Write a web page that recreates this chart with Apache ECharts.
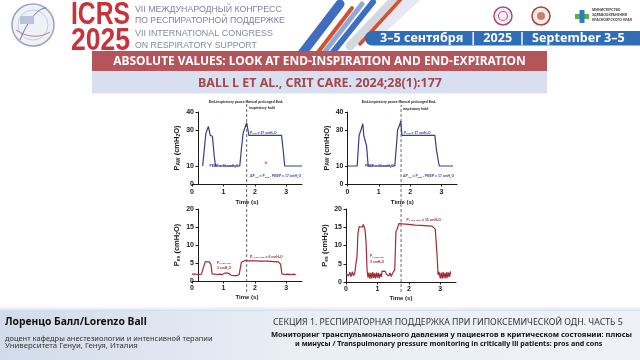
<!DOCTYPE html>
<html><head><meta charset="utf-8">
<script src="https://cdn.jsdelivr.net/npm/echarts@6/dist/echarts.min.js"></script>
<style>html,body{margin:0;padding:0;background:#fff}#c{width:640px;height:360px}</style>
</head><body><div id="c"></div>
<script>
// ---------- data ----------
const timeTicks = [0, 1, 2, 3];
const pawTicks = [0, 10, 30, 40];
const pesTicks = [0, 5, 10, 15, 20];
const eventLeft = [1.74];
const eventRight = [1.71];
// [time (s), Paw (cmH2O)]  end-inspiratory pause
const pawLeft = [[0.34,10],[0.39,10],[0.44,28],[0.52,32],[0.55,33],[0.58,27],[0.62,28],[0.65,26.5],[0.71,15],[0.75,10],[1.52,10],[1.58,21],[1.63,28.5],[1.70,32],[1.74,34],[1.81,27],[2.85,27],[2.90,19],[2.95,10],[3.50,10]];
// manual prolonged end-inspiratory hold
const pawRight = [[0,10],[0.31,10],[0.37,27],[0.43,30],[0.49,33.5],[0.52,27],[0.57,27],[0.61,21],[0.66,10],[1.51,10],[1.57,23],[1.60,30],[1.67,33],[1.70,35],[1.74,27],[2.79,27],[2.84,19],[2.93,10],[3.37,10]];
// [time (s), Pes (cmH2O)]
const pesLeft = [[0,1.9],[0.05,1.7],[0.1,1.9],[0.15,1.6],[0.2,1.8],[0.25,1.7],[0.3,1.9],[0.34,2.4],[0.38,4.2],[0.42,5.3],[0.48,5.6],[0.55,5.3],[0.6,4.6],[0.64,2.0],[0.68,1.6],[0.72,1.9],[0.76,1.5],[0.8,1.8],[0.84,1.5],[0.88,1.9],[0.92,1.6],[0.96,1.8],[1.0,2.1],[1.05,2.2],[1.1,2.1],[1.15,2.2],[1.2,2.0],[1.25,1.6],[1.3,1.9],[1.34,1.5],[1.38,1.8],[1.42,1.5],[1.46,1.9],[1.5,1.8],[1.53,3.2],[1.57,5.2],[1.62,5.6],[1.69,5.7],[1.8,5.6],[2.0,5.6],[2.2,5.5],[2.4,5.5],[2.6,5.4],[2.75,5.3],[2.82,4.6],[2.86,2.0],[2.9,1.5],[2.95,1.8],[3.0,1.5],[3.05,1.9],[3.1,1.5],[3.15,1.8],[3.2,1.6],[3.25,1.9],[3.3,1.7]];
const pesRight = [[0,2.4],[0.04,2.8],[0.08,1.6],[0.12,2.7],[0.16,1.5],[0.2,2.8],[0.24,1.7],[0.28,2.6],[0.32,2.2],[0.35,7],[0.38,13.3],[0.42,15.2],[0.48,15.6],[0.52,15],[0.55,15.8],[0.59,14.8],[0.61,14],[0.64,10.5],[0.67,3.3],[0.7,1.2],[0.73,2.6],[0.76,0.9],[0.79,2.5],[0.82,1.0],[0.85,2.7],[0.88,1.1],[0.91,2.4],[0.94,1.0],[0.97,2.6],[1.0,1.2],[1.03,2.5],[1.06,1.0],[1.09,2.3],[1.12,1.4],[1.15,3.0],[1.2,3.0],[1.25,2.9],[1.28,2.2],[1.32,2.6],[1.36,1.6],[1.4,2.5],[1.44,1.5],[1.48,2.4],[1.52,2.0],[1.55,3.3],[1.59,13.8],[1.64,14.8],[1.68,16],[1.8,15.9],[2.0,15.8],[2.2,15.6],[2.4,15.5],[2.6,15.4],[2.74,15.3],[2.79,14.8],[2.84,14.5],[2.9,7],[2.93,1.9],[2.96,2.8],[3.0,1.0],[3.03,2.6],[3.06,0.9],[3.09,2.7],[3.12,1.1],[3.15,2.5],[3.18,1.0],[3.21,2.7],[3.24,1.2],[3.27,2.6],[3.3,1.5],[3.33,2.9]];

// ---------- styling ----------
const BLUE = '#363c8e', RED = '#a02a36', AX = '#1a1a1a';
const AF = '"Liberation Sans", Arial, sans-serif';
const NF = '"Noto Sans", "Open Sans", sans-serif';
const mctx = document.createElement('canvas').getContext('2d');
function fit(text, fam, weight, width) { mctx.font = weight + ' 100px ' + fam; return 100 * width / mctx.measureText(text).width; }

const grids = [
  {left: 192, top: 112, width: 110, height: 72},
  {left: 192, top: 209, width: 110, height: 72},
  {left: 347.5, top: 112, width: 109.6, height: 72},
  {left: 346, top: 209, width: 110, height: 73},
  {left: 192, top: 103, width: 110, height: 189},
  {left: 347.5, top: 105, width: 109.6, height: 187}
].map(g => Object.assign({outerBoundsMode: 'none', containLabel: false}, g));

function xAx(i, named, margin, gap) {
  return {
    type: 'value', gridIndex: i, min: 0, max: 3.5,
    axisLine: {show: true, lineStyle: {color: AX, width: 1}},
    axisTick: {show: true, length: 2.5, customValues: timeTicks, lineStyle: {color: AX, width: 1}},
    axisLabel: {customValues: timeTicks, fontSize: 7, fontWeight: 'bold', color: AX, fontFamily: AF, margin: margin},
    splitLine: {show: false},
    name: named ? 'Time (s)' : '', nameLocation: 'middle', nameGap: gap,
    nameTextStyle: {fontSize: 6, fontWeight: 'bold', color: AX, fontFamily: AF}
  };
}
const richName = {
  b: {fontSize: 7.5, fontWeight: 'bold', color: AX, fontFamily: AF},
  s: {fontSize: 5, fontWeight: 'bold', color: AX, fontFamily: AF, verticalAlign: 'bottom', padding: [3, 0, 0, 0]}
};
function yAx(i, max, interval, ticks, name, offset) {
  return {
    type: 'value', gridIndex: i, min: 0, max: max, interval: interval, offset: offset,
    axisLine: {show: true, lineStyle: {color: AX, width: 1}},
    axisTick: {show: true, length: 2.5, customValues: ticks, lineStyle: {color: AX, width: 1}},
    axisLabel: {customValues: ticks, fontSize: 7, fontWeight: 'bold', color: AX, fontFamily: AF, margin: 4},
    splitLine: {show: false},
    name: name, nameLocation: 'middle', nameGap: 17, nameRotate: 90,
    nameTextStyle: {rich: richName}
  };
}
const hidX = i => ({type: 'value', gridIndex: i, min: 0, max: 3.5, show: false});
const hidY = i => ({type: 'value', gridIndex: i, min: 0, max: 1, show: false});

const pawName = '{b|P}{s|AW}{b| (cmH}{s|2}{b|O)}';
const pesName = '{b|P}{s|es}{b| (cmH}{s|2}{b|O)}';

function trace(i, data, color) {
  return {type: 'line', xAxisIndex: i, yAxisIndex: i, data: data, showSymbol: false, symbol: 'none',
    lineStyle: {color: color, width: 1.2}, silent: true, animation: false, z: 3};
}
function eventLine(i, ev) {
  return {type: 'line', xAxisIndex: i, yAxisIndex: i, data: [[ev[0], 0], [ev[0], 1]], showSymbol: false, symbol: 'none',
    lineStyle: {color: '#444', width: 0.8, type: [3, 2]}, silent: true, animation: false, z: 2};
}

// ---------- slide graphics ----------
function T(x, y, text, size, o) {
  return {type: 'text', x: x, y: y, silent: true,
    style: Object.assign({text: text, fontSize: size, fontFamily: NF, fill: '#222', align: 'left', verticalAlign: 'middle'}, o || {})};
}
function fitT(x, y, text, width, fam, weight, o) {
  return T(x, y, text, fit(text, fam, weight, width), Object.assign({fontFamily: fam, fontWeight: weight}, o || {}));
}
function ann(x, y, text, color, size, align) {
  return {type: 'text', x: x, y: y, silent: true, style: {text: text, fill: color, fontSize: size, fontWeight: 'bold',
    fontFamily: AF, align: align || 'left', verticalAlign: 'middle',
    rich: {s: {fontSize: size * 0.72, fill: color, fontWeight: 'bold', fontFamily: AF, verticalAlign: 'bottom'}}}};
}
function stripe(x1, y1, x2, y2, w, c) {
  return {type: 'line', silent: true, shape: {x1: x1, y1: y1, x2: x2, y2: y2}, style: {stroke: c, lineWidth: w, lineCap: 'round'}};
}
function scaledText(x, y, text, size, width, color) {
  mctx.font = 'bold ' + size + 'px ' + AF;
  const sx = width / mctx.measureText(text).width;
  return {type: 'text', x: x, y: y, scaleX: sx, silent: true,
    style: {text: text, fontSize: size, fontWeight: 'bold', fontFamily: AF, fill: color, align: 'left', verticalAlign: 'middle'}};
}

const g = [];
// header logo
g.push({type: 'circle', shape: {cx: 33, cy: 25, r: 21}, style: {fill: '#eef1f7', stroke: '#9aa5be', lineWidth: 1.5}, silent: true});
g.push({type: 'circle', shape: {cx: 33, cy: 25, r: 15}, style: {fill: 'none', stroke: '#b9c3d7', lineWidth: 0.8}, silent: true});
g.push({type: 'bezierCurve', shape: {x1: 20, y1: 40, x2: 46, y2: 8, cpx1: 28, cpy1: 20, cpx2: 38, cpy2: 8}, style: {stroke: '#5b79b4', lineWidth: 1, fill: 'none'}, silent: true});
g.push({type: 'bezierCurve', shape: {x1: 16, y1: 30, x2: 50, y2: 32, cpx1: 28, cpy1: 38, cpx2: 40, cpy2: 38}, style: {stroke: '#c25a5a', lineWidth: 0.8, fill: 'none'}, silent: true});
g.push({type: 'rect', shape: {x: 20, y: 16, width: 14, height: 8}, style: {fill: '#b8c4dc'}, silent: true});
// ICRS 2025
g.push(scaledText(71, 15.5, 'ICRS', 31, 59, '#c8323a'));
g.push(scaledText(71, 41, '2025', 31, 59, '#c8323a'));
g.push(fitT(135, 10, 'VII МЕЖДУНАРОДНЫЙ КОНГРЕСС', 147, AF, 'normal', {fill: '#837ea3'}));
g.push(fitT(135, 21, 'ПО РЕСПИРАТОРНОЙ ПОДДЕРЖКЕ', 150, AF, 'normal', {fill: '#837ea3'}));
g.push(fitT(135, 34, 'VII INTERNATIONAL CONGRESS', 138, AF, 'normal', {fill: '#858a9a'}));
g.push(fitT(135, 45.5, 'ON RESPIRATORY SUPPORT', 122, AF, 'normal', {fill: '#858a9a'}));
// diagonal stripes
g.push(stripe(370, 38, 418, -6, 12, '#e6e9ef'));
g.push(stripe(350, 46, 396, -2, 9, '#d3d7df'));
g.push(stripe(297, 60, 340, 4, 9, '#3f6dbf'));
g.push(stripe(312, 60, 352, 8, 4, '#d4512f'));
g.push(stripe(323, 54, 362, 4, 5, '#8eaad8'));
g.push(stripe(333, 52, 373, 2, 6, '#3f6dbf'));
g.push(stripe(360, 44, 402, -2, 3.5, '#d4512f'));
// logos
g.push({type: 'circle', shape: {cx: 503, cy: 16, r: 9}, style: {fill: '#f6edf3', stroke: '#a24d82', lineWidth: 1.5}, silent: true});
g.push({type: 'circle', shape: {cx: 503, cy: 16, r: 4.5}, style: {fill: 'none', stroke: '#c0608a', lineWidth: 1.2}, silent: true});
g.push({type: 'circle', shape: {cx: 541, cy: 16, r: 9}, style: {fill: '#f7ece8', stroke: '#a84040', lineWidth: 1.5}, silent: true});
g.push({type: 'circle', shape: {cx: 541, cy: 16, r: 4}, style: {fill: '#c58070'}, silent: true});
g.push({type: 'rect', shape: {x: 575, y: 14, width: 14, height: 5}, style: {fill: '#58b148'}, silent: true});
g.push({type: 'rect', shape: {x: 579.5, y: 10, width: 5, height: 13}, style: {fill: '#2f7bc4'}, silent: true});
g.push(T(592, 10.5, 'МИНИСТЕРСТВО', 3.4, {fontWeight: 'bold', fill: '#444'}));
g.push(T(592, 15.5, 'ЗДРАВООХРАНЕНИЯ', 3.4, {fontWeight: 'bold', fill: '#444'}));
g.push(T(592, 20.5, 'КРАСНОЯРСКОГО КРАЯ', 3.4, {fontWeight: 'bold', fill: '#444'}));
// date pill
g.push({type: 'rect', shape: {x: 365, y: 31, width: 290, height: 14.5, r: [7.25, 0, 0, 7.25]}, style: {fill: '#2f6db6'}, silent: true});
g.push(fitT(380, 38.3, '3–5 сентября  |  2025  |  September 3–5', 245, NF, 'bold', {fill: '#fff'}));
// title boxes
g.push({type: 'rect', shape: {x: 92, y: 51, width: 455, height: 20}, style: {fill: '#b3555b'}, silent: true});
g.push({type: 'rect', shape: {x: 92, y: 71, width: 455, height: 22.5}, style: {fill: '#d8e0ef'}, silent: true});
g.push(fitT(319.5, 62, 'ABSOLUTE VALUES: LOOK AT END-INSPIRATION AND END-EXPIRATION', 413, NF, 'bold', {fill: '#fff', align: 'center'}));
g.push(fitT(320, 83.5, 'BALL L ET AL., CRIT CARE. 2024;28(1):177', 244, NF, 'bold', {fill: '#a3464d', align: 'center'}));
// chart annotations (top-left)
g.push(ann(246, 102.5, 'End-inspiratory pause Manual prolonged End-', '#222', 3.4, 'center'));
g.push(ann(262, 108.5, 'inspiratory hold', '#222', 3.4, 'center'));
g.push(ann(250, 133, 'P{s|plat} = 27 cmH{s|2}O', BLUE, 3.4));
g.push(ann(209.5, 166.5, 'PEEP = 10 cmH{s|2}O', BLUE, 3.4));
g.push(ann(250, 176.5, 'ΔP{s|AW} = P{s|plat} - PEEP = 17 cmH{s|2}O', BLUE, 3.4));
g.push(T(266, 165, '*', 9, {fill: '#e0505a', align: 'center', fontFamily: AF}));
// top-right
g.push(ann(399, 102.5, 'End-inspiratory pause Manual prolonged End-', '#222', 3.4, 'center'));
g.push(ann(415.5, 109, 'inspiratory hold', '#222', 3.4, 'center'));
g.push(ann(404, 133, 'P{s|plat} = 27 cmH{s|2}O', BLUE, 3.4));
g.push(ann(365, 166.5, 'PEEP = 10 cmH{s|2}O', BLUE, 3.4));
g.push(ann(403, 176.5, 'ΔP{s|AW} = P{s|plat} - PEEP = 17 cmH{s|2}O', BLUE, 3.4));
// bottom-left
g.push(ann(217, 263, 'P{s|L,end-exp}', RED, 3.4));
g.push(ann(217, 268.5, '3 cmH{s|2}O', RED, 3.4));
g.push(ann(250, 256.7, 'P{s|L,end-insp} = 6 cmH{s|2}O', RED, 3.4));
// bottom-right
g.push(ann(406.5, 220, 'P{s|L,end-insp} = 15 cmH{s|2}O', RED, 3.4));
g.push(ann(370, 256.5, 'P{s|L,end-exp}', RED, 3.4));
g.push(ann(370, 262, '3 cmH{s|2}O', RED, 3.4));
// footer band
g.push({type: 'rect', shape: {x: 0, y: 310, width: 640, height: 50}, silent: true,
  style: {fill: new echarts.graphic.LinearGradient(0, 0, 1, 0, [{offset: 0, color: '#d2dbea'}, {offset: 0.45, color: '#e9eef5'}, {offset: 1, color: '#eef2f7'}])}});
g.push({type: 'rect', shape: {x: 0, y: 306, width: 640, height: 5}, silent: true,
  style: {fill: new echarts.graphic.LinearGradient(0, 0, 0, 1, [{offset: 0, color: 'rgba(210,219,234,0)'}, {offset: 1, color: 'rgba(210,219,234,0.8)'}])}});
g.push(fitT(5, 322.5, 'Лоренцо Балл/Lorenzo Ball', 142, NF, 'bold', {fill: '#111'}));
g.push(fitT(5, 338.5, 'доцент кафедры анестезиологии и интенсивной терапии', 208, NF, 'normal', {fill: '#333'}));
g.push(fitT(5, 345.5, 'Университета Генуи, Генуя, Италия', 133, NF, 'normal', {fill: '#333'}));
g.push(fitT(273, 322.7, 'СЕКЦИЯ 1. РЕСПИРАТОРНАЯ ПОДДЕРЖКА ПРИ ГИПОКСЕМИЧЕСКОЙ ОДН. ЧАСТЬ 5', 350, NF, 'normal', {fill: '#333'}));
g.push(fitT(271, 335, 'Мониторинг транспульмонального давления у пациентов в критическом состоянии: плюсы', 362, NF, 'bold', {fill: '#111'}));
g.push(fitT(295, 343.5, 'и минусы / Transpulmonary pressure monitoring in critically ill patients: pros and cons', 308, NF, 'bold', {fill: '#111'}));

const option = {
  backgroundColor: '#fff',
  animation: false,
  grid: grids,
  xAxis: [xAx(0, true, 5, 15), xAx(1, true, 4, 13.5), xAx(2, true, 5, 15), xAx(3, true, 4, 13), hidX(4), hidX(5)],
  yAxis: [yAx(0, 40, 10, pawTicks, pawName, -6), yAx(1, 20, 5, pesTicks, pesName, -6),
          yAx(2, 40, 10, pawTicks, pawName, 0), yAx(3, 20, 5, pesTicks, pesName, 0), hidY(4), hidY(5)],
  series: [trace(0, pawLeft, BLUE), trace(1, pesLeft, RED), trace(2, pawRight, BLUE), trace(3, pesRight, RED),
           eventLine(4, eventLeft), eventLine(5, eventRight)],
  graphic: {elements: g}
};
const chart = echarts.init(document.getElementById('c'));
chart.setOption(option);
</script></body></html>
